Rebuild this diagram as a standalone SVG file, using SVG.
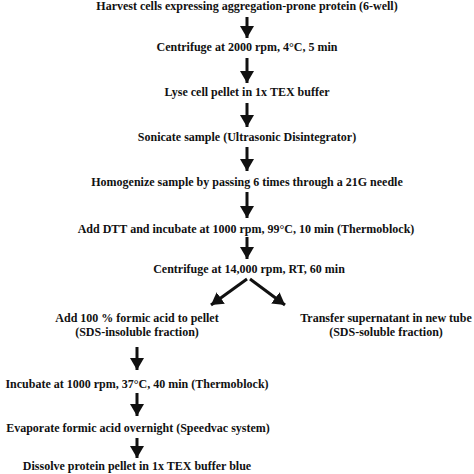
<svg xmlns="http://www.w3.org/2000/svg" width="474" height="474" viewBox="0 0 474 474">
<style>
text{font-family:"Liberation Serif","Times New Roman",serif;font-weight:bold;font-size:12px;fill:#111;text-anchor:middle}
.c line{stroke:#111;stroke-width:3}
</style>
<defs>
<marker id="ah" markerUnits="userSpaceOnUse" markerWidth="14" markerHeight="14" viewBox="0 0 14 14" refX="12" refY="7" orient="auto">
<path d="M0,0 L12,7 L0,14 Z" fill="#111"/>
</marker>
</defs>
<rect width="474" height="474" fill="#fff"/>
<g id="n1"><text x="247" y="10">Harvest cells expressing aggregation-prone protein (6-well)</text></g>
<g id="n2"><text x="247" y="51">Centrifuge at 2000 rpm, 4°C, 5 min</text></g>
<g id="n3"><text x="247" y="96">Lyse cell pellet in 1x TEX buffer</text></g>
<g id="n4"><text x="247" y="141">Sonicate sample (Ultrasonic Disintegrator)</text></g>
<g id="n5"><text x="247" y="186">Homogenize sample by passing 6 times through a 21G needle</text></g>
<g id="n6"><text x="246" y="233">Add DTT and incubate at 1000 rpm, 99°C, 10 min (Thermoblock)</text></g>
<g id="n7"><text x="249" y="273">Centrifuge at 14,000 rpm, RT, 60 min</text></g>
<g id="n8"><text x="137" y="322">Add 100 % formic acid to pellet</text><text x="137" y="336">(SDS-insoluble fraction)</text></g>
<g id="n9"><text x="386" y="322">Transfer supernatant in new tube</text><text x="386" y="336">(SDS-soluble fraction)</text></g>
<g id="n10"><text x="137" y="388">Incubate at 1000 rpm, 37°C, 40 min (Thermoblock)</text></g>
<g id="n11"><text x="138" y="432">Evaporate formic acid overnight (Speedvac system)</text></g>
<g id="n12"><text x="137" y="470">Dissolve protein pellet in 1x TEX buffer blue</text></g>
<g id="connectors" class="c">
<line x1="247" y1="17" x2="247" y2="38" marker-end="url(#ah)"/>
<line x1="247" y1="58" x2="247" y2="83" marker-end="url(#ah)"/>
<line x1="247" y1="103" x2="247" y2="127" marker-end="url(#ah)"/>
<line x1="247" y1="147" x2="247" y2="171" marker-end="url(#ah)"/>
<line x1="247" y1="192" x2="247" y2="218" marker-end="url(#ah)"/>
<line x1="247" y1="237" x2="247" y2="259" marker-end="url(#ah)"/>
<line x1="247" y1="279" x2="211" y2="305" marker-end="url(#ah)"/>
<line x1="250" y1="279" x2="285" y2="305" marker-end="url(#ah)"/>
<line x1="137" y1="347" x2="137" y2="370" marker-end="url(#ah)"/>
<line x1="137" y1="393" x2="137" y2="416" marker-end="url(#ah)"/>
<line x1="137" y1="438" x2="137" y2="458" marker-end="url(#ah)"/>
</g>
</svg>
